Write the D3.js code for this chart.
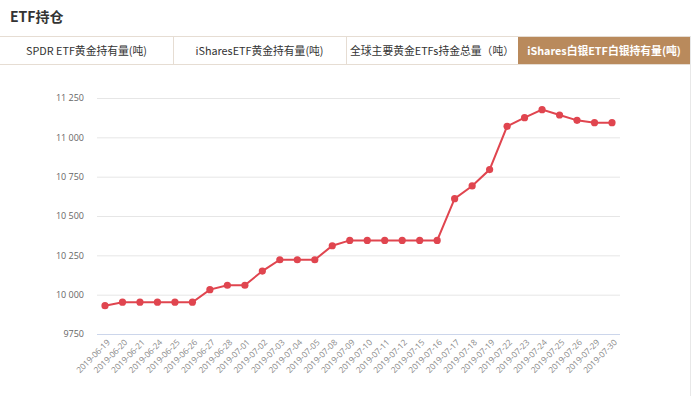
<!DOCTYPE html>
<html><head><meta charset="utf-8">
<script src="https://cdn.jsdelivr.net/npm/d3@7"></script>
<style>
body{margin:0;background:#fff;font-family:"Noto Sans CJK SC","Open Sans",sans-serif;}
svg{display:block;}
</style></head>
<body><svg id="c" width="692" height="396"></svg>
<script>
const title = "ETF持仓";
const tabs = ["SPDR ETF黄金持有量(吨)", "iSharesETF黄金持有量(吨)", "全球主要黄金ETFs持金总量（吨）", "iShares白银ETF白银持有量(吨)"];
const dates = ["2019-06-19","2019-06-20","2019-06-21","2019-06-24","2019-06-25","2019-06-26","2019-06-27","2019-06-28","2019-07-01","2019-07-02","2019-07-03","2019-07-04","2019-07-05","2019-07-08","2019-07-09","2019-07-10","2019-07-11","2019-07-12","2019-07-15","2019-07-16","2019-07-17","2019-07-18","2019-07-19","2019-07-22","2019-07-23","2019-07-24","2019-07-25","2019-07-26","2019-07-29","2019-07-30"];
const values = [9930,9952,9952,9952,9952,9952,10032,10060,10060,10150,10222,10222,10222,10311,10345,10345,10345,10345,10345,10345,10610,10691,10795,11070,11125,11176,11142,11108,11093,11093];
const yTicks = [9750,10000,10250,10500,10750,11000,11250];

const svg = d3.select("#c");
svg.append("text").attr("x",10).attr("y",22).attr("font-size",14).attr("font-weight","bold").attr("fill","#333").text(title);
const tabX = [0,173,346,518,690];
svg.append("line").attr("x1",0).attr("x2",690).attr("y1",36.5).attr("y2",36.5).attr("stroke","#e6ddd3");
svg.append("line").attr("x1",0).attr("x2",690).attr("y1",64.5).attr("y2",64.5).attr("stroke","#e6ddd3");
svg.append("line").attr("x1",690.5).attr("x2",690.5).attr("y1",36).attr("y2",396).attr("stroke","#e8e8e8");
tabs.forEach((t,i)=>{
  const active = i===3;
  if(active) svg.append("rect").attr("x",tabX[i]).attr("y",37).attr("width",tabX[i+1]-tabX[i]).attr("height",27).attr("fill","#b98a5c");
  else if(i>0) svg.append("line").attr("x1",tabX[i]+0.5).attr("x2",tabX[i]+0.5).attr("y1",37).attr("y2",64).attr("stroke","#e6ddd3");
  svg.append("text").attr("x",(tabX[i]+tabX[i+1])/2).attr("y",54.5).attr("text-anchor","middle")
    .attr("font-size",10.8).attr("font-weight",active?"bold":"normal").attr("fill",active?"#fff":"#333").text(t);
});

const x = d3.scalePoint().domain(dates).range([105,612]);
const y = d3.scaleLinear().domain([9750,11250]).range([334,98]);
const fmt = v => v>=10000 ? d3.format(",")(v).replace(",", " ") : String(v);

const yAxis = svg.append("g").attr("transform","translate(97,0)")
  .call(d3.axisLeft(y).tickValues(yTicks).tickSize(-523).tickFormat(fmt));
yAxis.select(".domain").remove();
yAxis.selectAll(".tick line").attr("stroke","#e6e6e6");
yAxis.selectAll(".tick text").attr("x",-13).attr("font-size",9).attr("fill","#666").attr("font-family","Open Sans, sans-serif");
yAxis.selectAll(".tick").filter(d=>d===9750).select("line").attr("stroke","#ccd6eb");

const xAxis = svg.append("g").attr("transform","translate(0,334)")
  .call(d3.axisBottom(x).tickSize(0));
xAxis.select(".domain").remove();
xAxis.selectAll(".tick text").attr("font-size",8.3).attr("fill","#888").attr("font-family","Open Sans, sans-serif")
  .attr("text-anchor","end").attr("dy",0).attr("y",0)
  .attr("transform","translate(5,9) rotate(-45)");

const line = d3.line().x((d,i)=>x(dates[i])).y(d=>y(d));
svg.append("path").datum(values).attr("d",line).attr("fill","none").attr("stroke","#e0454f").attr("stroke-width",2);
svg.selectAll("circle.p").data(values).join("circle").attr("class","p")
  .attr("cx",(d,i)=>x(dates[i])).attr("cy",d=>y(d)).attr("r",3.6).attr("fill","#e0454f");
</script></body></html>
